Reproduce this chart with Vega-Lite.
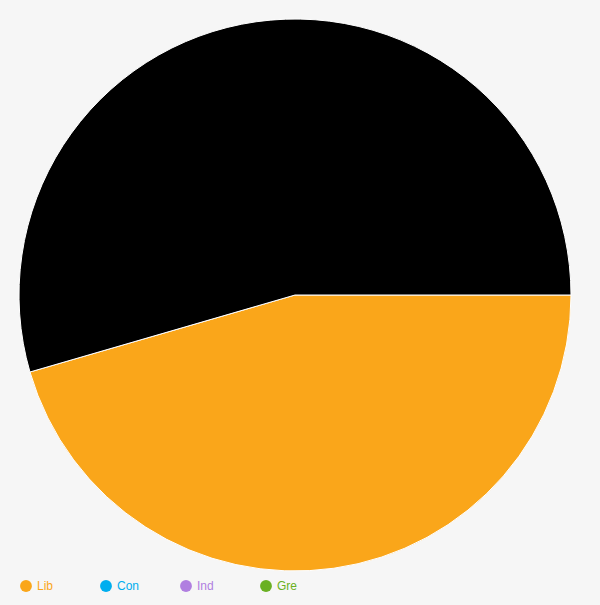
{
  "$schema": "https://vega.github.io/schema/vega-lite/v6.json",
  "width": 590,
  "height": 590,
  "padding": {"left": 0, "top": 0, "right": 10, "bottom": 15},
  "autosize": {"type": "none"},
  "background": "#f6f6f6",
  "config": {"view": {"stroke": null}},
  "data": {
    "values": [
      {"party": "Lib", "share": 45.5, "rank": 1},
      {"party": "Other", "share": 54.5, "rank": 2}
    ]
  },
  "mark": {"type": "arc", "outerRadius": 276, "stroke": "#ffffff", "strokeWidth": 1},
  "encoding": {
    "theta": {
      "field": "share",
      "type": "quantitative",
      "stack": true,
      "scale": {"range": [1.5708, 7.854]}
    },
    "order": {"field": "rank", "type": "quantitative"},
    "color": {
      "field": "party",
      "type": "nominal",
      "scale": {
        "domain": ["Lib", "Con", "Ind", "Gre", "Other"],
        "range": ["#faa61a", "#00aeef", "#b07fe0", "#6ab023", "#000000"]
      },
      "legend": {
        "values": ["Lib", "Con", "Ind", "Gre"],
        "title": null,
        "orient": "none",
        "legendX": 20,
        "legendY": 580,
        "direction": "horizontal",
        "columns": 4,
        "gridAlign": "all",
        "columnPadding": 40,
        "symbolType": "circle",
        "symbolSize": 140,
        "symbolStrokeWidth": 0,
        "labelFont": "Liberation Sans",
        "labelFontSize": 12,
        "labelOffset": 5,
        "labelColor": {"expr": "scale('color', datum.value)"}
      }
    }
  }
}
